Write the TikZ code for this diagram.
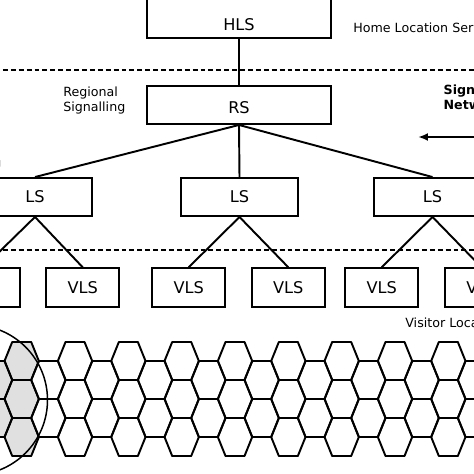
\documentclass[tikz,border=0pt]{standalone}
\usepackage{fontspec}
\setmainfont{DejaVu Sans}
\usetikzlibrary{arrows.meta}

\begin{document}
\begin{tikzpicture}[
  x=0.02cm, y=-0.02cm,
  >={Latex[length=5.5pt,width=4.5pt]},
  server/.style={draw, line width=1.1pt, inner sep=0pt, font=\fontsize{9.2}{11}\selectfont},
  tag/.style={inner sep=0pt, font=\fontsize{7.2}{8.5}\selectfont, align=left},
  link/.style={line width=1.1pt},
  level/.style={line width=1.1pt, dash pattern=on 2.8pt off 1.7pt},
  cell/.style={line width=1.1pt, line join=round},
]
\useasboundingbox (0,0) rectangle (474,474);

\def\px{0.2mm}
\def\hr{17.17}
\def\ha{9.5}
\def\hh{19}

\node[server, minimum width=184*\px, minimum height=39*\px, text height=13pt] (HLS) at (239,18.75) {HLS};
\node[server, minimum width=184*\px, minimum height=38*\px, text height=9.6pt] (RS) at (239,105) {RS};

\node[server, minimum width=114*\px, minimum height=38*\px] (LSa) at (35,197) {LS};
\node[server, minimum width=117*\px, minimum height=38*\px] (LSb) at (239.5,197) {LS};
\node[server, minimum width=117*\px, minimum height=38*\px] (LSc) at (432.5,197) {LS};

\node[server, minimum width=73.5*\px, minimum height=38.5*\px] (V1) at (-16.5,287.5) {VLS};
\node[server, minimum width=73.5*\px, minimum height=38.5*\px] (V2) at (82.7,287.5) {VLS};
\node[server, minimum width=73.5*\px, minimum height=38.5*\px] (V3) at (188.7,287.5) {VLS};
\node[server, minimum width=73.5*\px, minimum height=38.5*\px] (V4) at (288.3,287.5) {VLS};
\node[server, minimum width=73.5*\px, minimum height=38.5*\px] (V5) at (381.7,287.5) {VLS};
\node[server, minimum width=73.5*\px, minimum height=38.5*\px] (V6) at (481.5,287.5) {VLS};

\draw[link] (HLS) -- (RS);
\draw[link] (RS.south) -- (LSa.north);
\draw[link] (RS.south) -- (LSb.north);
\draw[link] (RS.south) -- (LSc.north);

\draw[link] (LSa.south) -- (V1.north);
\draw[link] (LSa.south) -- (V2.north);
\draw[link] (LSb.south) -- (V3.north);
\draw[link] (LSb.south) -- (V4.north);
\draw[link] (LSc.south) -- (V5.north);
\draw[link] (LSc.south) -- (V6.north);

\draw[level] (-5,70) -- (480,70);
\draw[level] (-5,250) -- (480,250);

\node[tag, anchor=base west] (homelbl) at (353,32) {Home Location Server};
\node[tag, anchor=north west] (reglbl) at (63,86.5) {Regional\\Signalling};
\node[tag, anchor=north west] (loclbl) at (-61,143) {Local\\Signalling};
\node[tag, anchor=north west, font=\fontsize{7.2}{8.5}\selectfont\bfseries] (netlbl) at (443.3,84.5) {Signalling\\Network};
\node[tag, anchor=base west] (vislbl) at (405,327.3) {Visitor Location Server};

\coordinate (sigtail) at (500,137);
\coordinate (sigtip) at (418.3,137);
\draw[->, line width=0.9pt] (sigtail) -- (sigtip);

% cells under the circle
\foreach \cx/\cy in {21.7/361, 21.7/399, 21.7/437, -5/380, -5/418}
  \fill[black!12, shift={(\cx,\cy)}] (\hr,0) -- (\ha,-\hh) -- (-\ha,-\hh) -- (-\hr,0) -- (-\ha,\hh) -- (\ha,\hh) -- cycle;

\foreach \k in {0,...,8}
  \foreach \r in {0,1,2}
    \draw[cell, shift={(21.7+53.33*\k,361+38*\r)}] (\hr,0) -- (\ha,-\hh) -- (-\ha,-\hh) -- (-\hr,0) -- (-\ha,\hh) -- (\ha,\hh) -- cycle;

\foreach \k in {-1,...,8}
  \foreach \r in {0,1}
    \draw[cell, shift={(48.4+53.33*\k,380+38*\r)}] (\hr,0) -- (\ha,-\hh) -- (-\ha,-\hh) -- (-\hr,0) -- (-\ha,\hh) -- (\ha,\hh) -- cycle;

\draw[line width=0.85pt] (-27.5,400) circle [radius=75];

\end{tikzpicture}
\end{document}
